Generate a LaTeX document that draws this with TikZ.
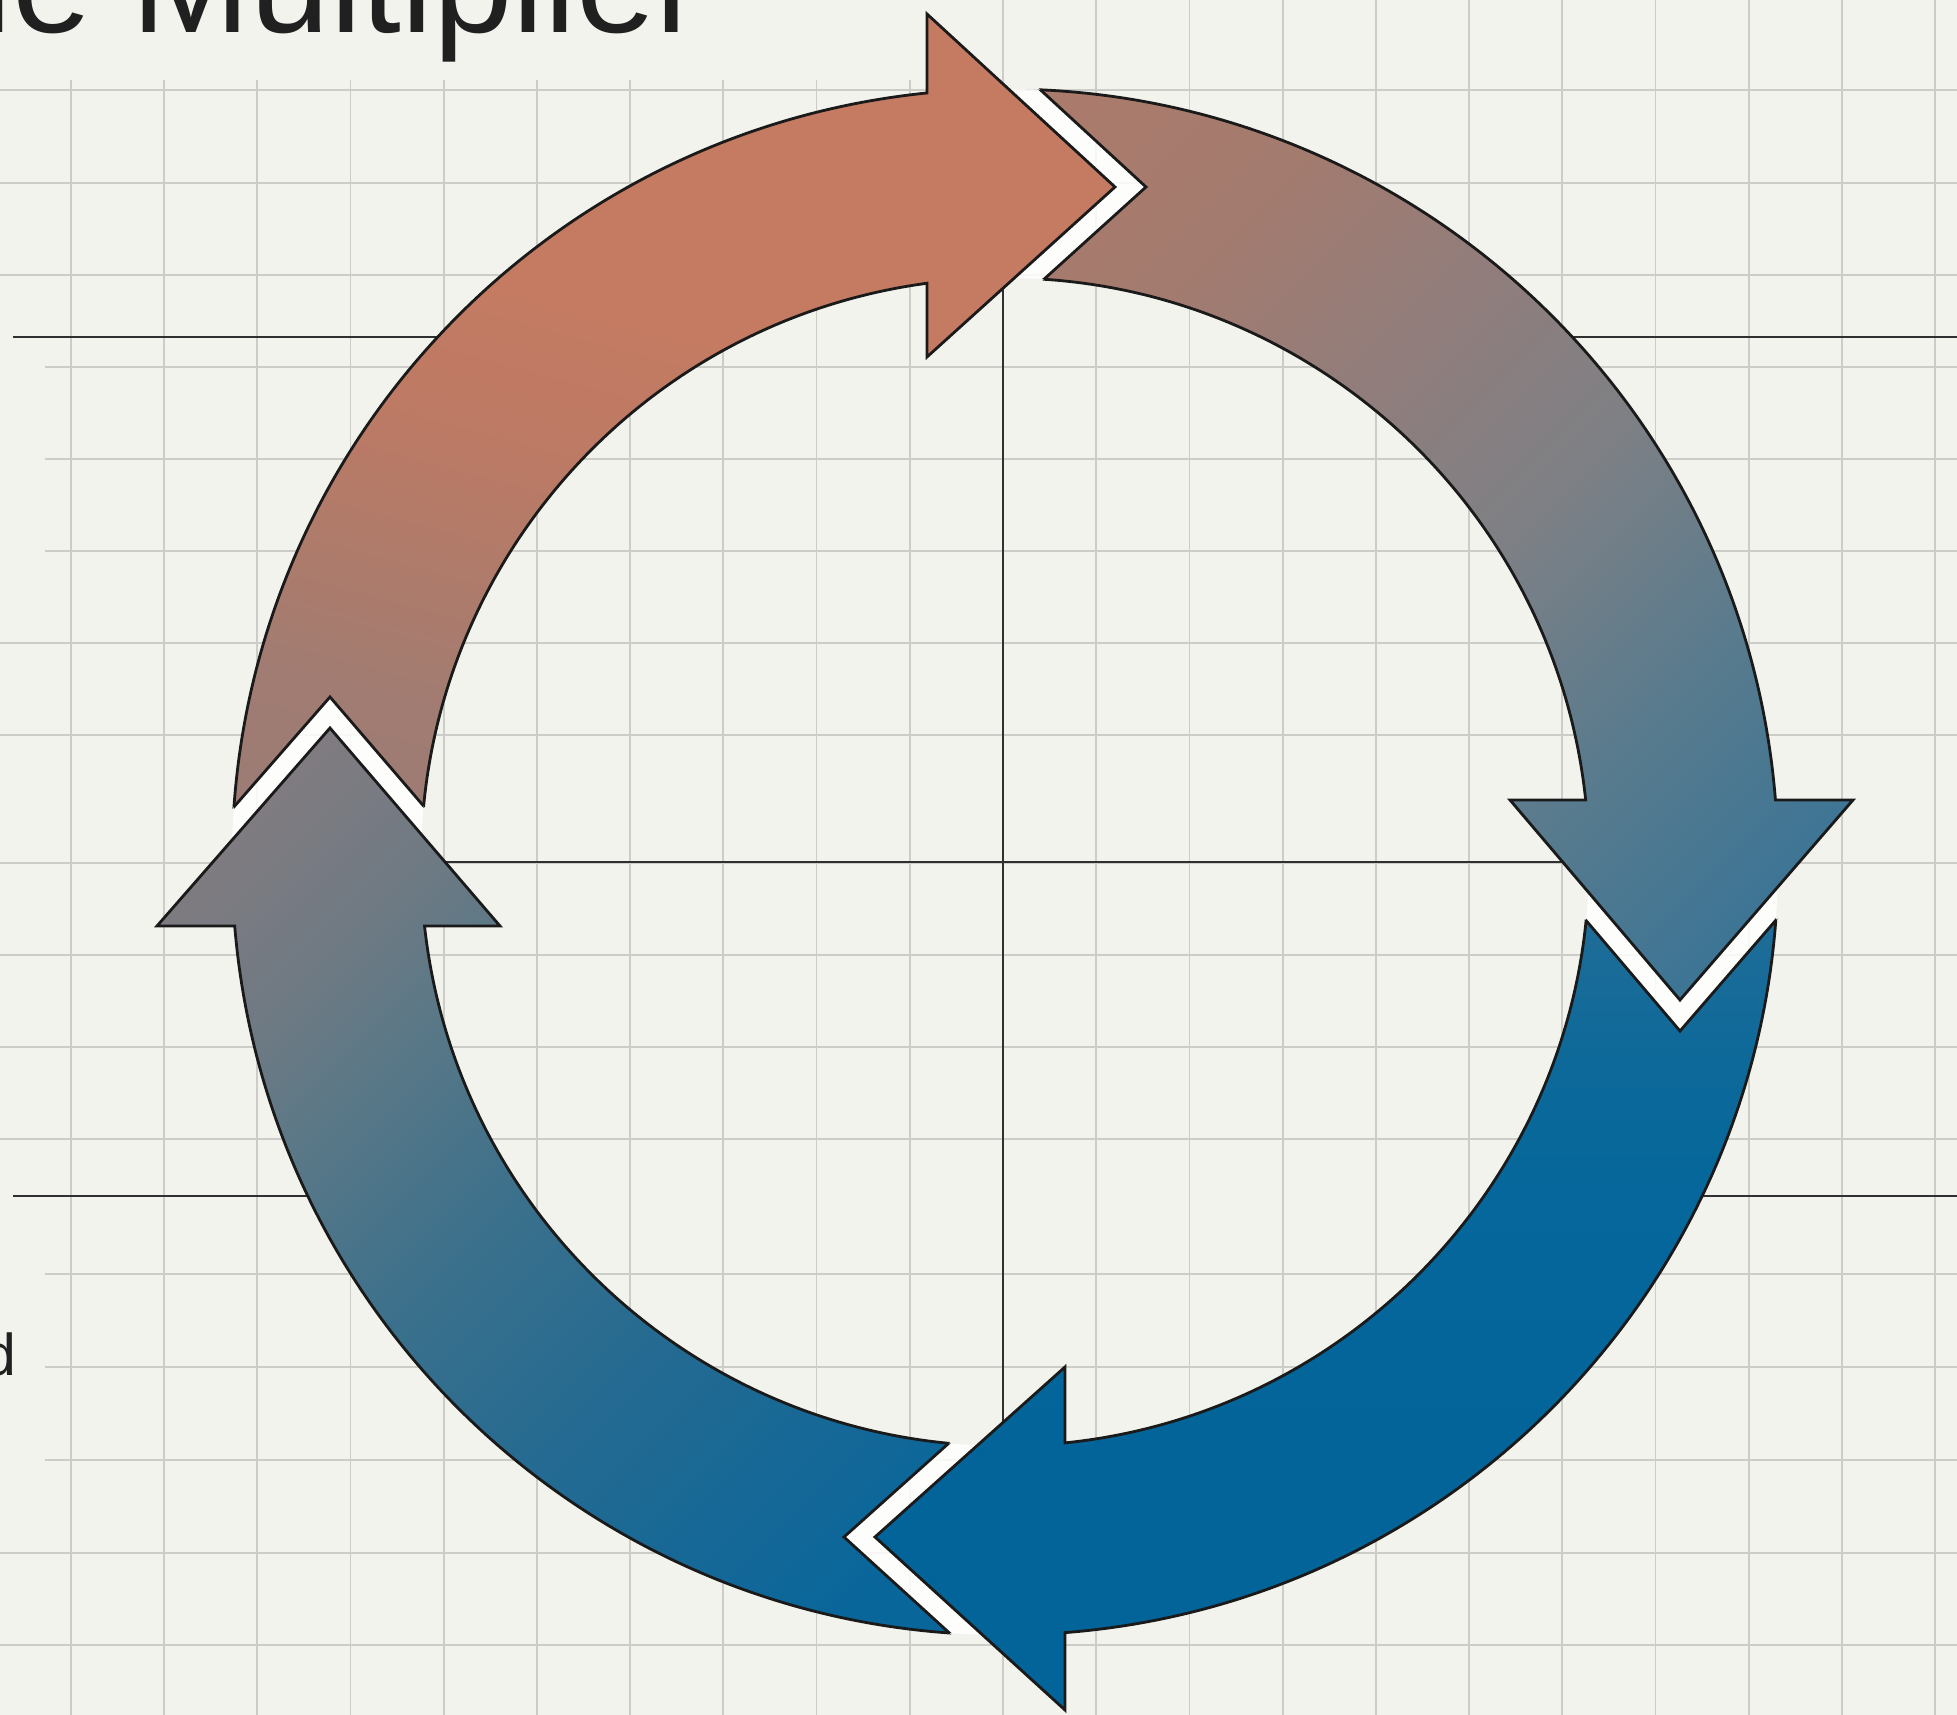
\documentclass[tikz,border=0pt]{standalone}
\usepackage{fontspec}
\setmainfont{Liberation Sans}
\definecolor{bg}{RGB}{243,243,238}
\definecolor{gridc}{RGB}{204,204,200}
\definecolor{axisc}{RGB}{48,48,48}
\definecolor{outc}{RGB}{26,26,26}
\definecolor{titlec}{RGB}{32,32,32}
% arrow 0 (top -> right)
\definecolor{aA1}{RGB}{62,117,149}
\definecolor{aA2}{RGB}{90,123,141}
\definecolor{aA3}{RGB}{126,128,133}
\definecolor{aA4}{RGB}{147,125,122}
\definecolor{aA5}{RGB}{163,123,111}
\definecolor{aA6}{RGB}{170,123,108}
% arrow 1 (right -> bottom)
\definecolor{aB1}{RGB}{3,100,153}
\definecolor{aB2}{RGB}{5,103,155}
\definecolor{aB3}{RGB}{14,105,153}
\definecolor{aB4}{RGB}{42,111,150}
% arrow 2 (bottom -> left)
\definecolor{aC1}{RGB}{8,102,155}
\definecolor{aC2}{RGB}{35,106,146}
\definecolor{aC3}{RGB}{58,112,140}
\definecolor{aC4}{RGB}{90,120,135}
\definecolor{aC5}{RGB}{112,122,131}
\definecolor{aC6}{RGB}{127,123,128}
% arrow 3 (left -> top)
\definecolor{aD1}{RGB}{156,124,117}
\definecolor{aD2}{RGB}{161,124,114}
\definecolor{aD3}{RGB}{175,123,106}
\definecolor{aD4}{RGB}{190,122,100}
\definecolor{aD5}{RGB}{197,123,98}
\pgfdeclareverticalshading{shA}{100bp}{color(0bp)=(aA1); color(22bp)=(aA1); color(34bp)=(aA2); color(46bp)=(aA3); color(59bp)=(aA4); color(69bp)=(aA5); color(80bp)=(aA6); color(100bp)=(aA6)}
\pgfdeclareverticalshading{shB}{100bp}{color(0bp)=(aB1); color(40bp)=(aB1); color(55bp)=(aB2); color(63bp)=(aB3); color(75bp)=(aB4); color(100bp)=(aB4)}
\pgfdeclareverticalshading{shC}{100bp}{color(0bp)=(aC1); color(22bp)=(aC1); color(40bp)=(aC2); color(52bp)=(aC3); color(63bp)=(aC4); color(70bp)=(aC5); color(78bp)=(aC6); color(100bp)=(aC6)}
\pgfdeclareverticalshading{shD}{100bp}{color(0bp)=(aD1); color(25bp)=(aD1); color(32bp)=(aD2); color(40bp)=(aD3); color(49bp)=(aD4); color(58bp)=(aD5); color(100bp)=(aD5)}
% body paths (origin = ring centre, y up, 1 unit = 1 px)
\def\bodyA{({acos(-35/773)}:773) arc[start angle={acos(-35/773)}, end angle={asin(62/773)}, radius=773] -- (848,62) -- (675,-138) -- (505,62) -- ({asin(62/584)}:584) arc[start angle={asin(62/584)}, end angle={acos(-35/584)}, radius=584] -- cycle}
\def\notchA{(-47,848) -- (141,675) -- (-47,505)}
\def\bodyB{({asin(19/773)}:773) arc[start angle={asin(19/773)}, end angle={-acos(60/773)}, radius=773] -- (60,-848) -- (-130,-675) -- (60,-505) -- ({-acos(60/584)}:584) arc[start angle={-acos(60/584)}, end angle={asin(19/584)}, radius=584] -- cycle}
\def\notchB{(848,31) -- (675,-169) -- (505,31)}
\def\bodyC{({-acos(17/773)}:773) arc[start angle={-acos(17/773)}, end angle={-180+asin(64/773)}, radius=773] -- (-848,-64) -- (-675,134) -- (-505,-64) -- ({-180+asin(64/584)}:584) arc[start angle={-180+asin(64/584)}, end angle={-acos(17/584)}, radius=584] -- cycle}
\def\notchC{(29,-848) -- (-161,-675) -- (29,-505)}
\def\bodyD{({180+asin(21/773)}:773) arc[start angle={180+asin(21/773)}, end angle={acos(-78/773)}, radius=773] -- (-78,848) -- (110,675) -- (-78,505) -- ({acos(-78/584)}:584) arc[start angle={acos(-78/584)}, end angle={180+asin(21/584)}, radius=584] -- cycle}
\def\notchD{(-848,-33) -- (-675,165) -- (-505,-33)}
\def\bigccw{(-1100,-1000) -- (1100,-1000) -- (1100,1000) -- (-1100,1000) -- cycle}
\begin{document}
\begin{tikzpicture}[x=1pt,y=1pt,
  gridl/.style={draw=gridc, line width=1.8pt},
  axisl/.style={draw=axisc, line width=2.6pt},
  outl/.style={draw=outc, line width=2.8pt, line join=miter},
  notchl/.style={draw=outc, line width=2.8pt, line join=miter}]
\useasboundingbox (-1005,-853) rectangle (952,862);
\fill[bg] (-1005,-853) rectangle (952,862);
% grid
\foreach \k in {0,...,9} \draw[gridl] ({-934+93.2*\k},782) -- ({-934+93.2*\k},-853);
\foreach \k in {10,...,20} \draw[gridl] ({-934+93.2*\k},862) -- ({-934+93.2*\k},-853);
\foreach \yy in {772,679,587,219,127,-1,-93,-185,-277,-691,-783} \draw[gridl] (-1005,\yy) -- (952,\yy);
\foreach \yy in {495,403,311,-412,-505,-598} \draw[gridl] (-960,\yy) -- (952,\yy);
% dark lines
\draw[axisl] (-992,525) -- (-567,525);
\draw[axisl] (567,525) -- (952,525);
\draw[axisl] (-992,-334) -- (-697,-334);
\draw[axisl] (697,-334) -- (952,-334);
\draw[axisl] (-2,-590) -- (-2,590);
\draw[axisl] (-590,0) -- (590,0);
% white ring (gaps)
\fill[white, fill opacity=0.85, even odd rule] (0,0) circle[radius=773] (0,0) circle[radius=584];
% arrow 0
\begin{scope}
  \clip \bigccw \notchA -- cycle;
  \shade[shading=shA, shading angle=45] \bodyA;
  \draw[outl] \bodyA;
\end{scope}
\begin{scope}
  \clip \bodyA;
  \draw[notchl] \notchA;
\end{scope}
% arrow 1
\begin{scope}
  \clip \bigccw \notchB -- cycle;
  \shade[shading=shB, shading angle=0] \bodyB;
  \draw[outl] \bodyB;
\end{scope}
\begin{scope}
  \clip \bodyB;
  \draw[notchl] \notchB;
\end{scope}
% arrow 2
\begin{scope}
  \clip \bigccw \notchC -- cycle;
  \shade[shading=shC, shading angle=45] \bodyC;
  \draw[outl] \bodyC;
\end{scope}
\begin{scope}
  \clip \bodyC;
  \draw[notchl] \notchC;
\end{scope}
% arrow 3
\begin{scope}
  \clip \bigccw \notchD -- cycle;
  \shade[shading=shD, shading angle=-15] \bodyD;
  \draw[outl] \bodyD;
\end{scope}
\begin{scope}
  \clip \bodyD;
  \draw[notchl] \notchD;
\end{scope}
% texts
\node[anchor=base east, inner sep=0pt, text=titlec, font=\fontsize{143}{155}\selectfont] (title) at (-301,829) {le Multiplier};
\node[anchor=base east, inner sep=0pt, text=titlec, font=\fontsize{59}{70}\selectfont] (dlab) at (-988,-513) {d};
\end{tikzpicture}
\end{document}
